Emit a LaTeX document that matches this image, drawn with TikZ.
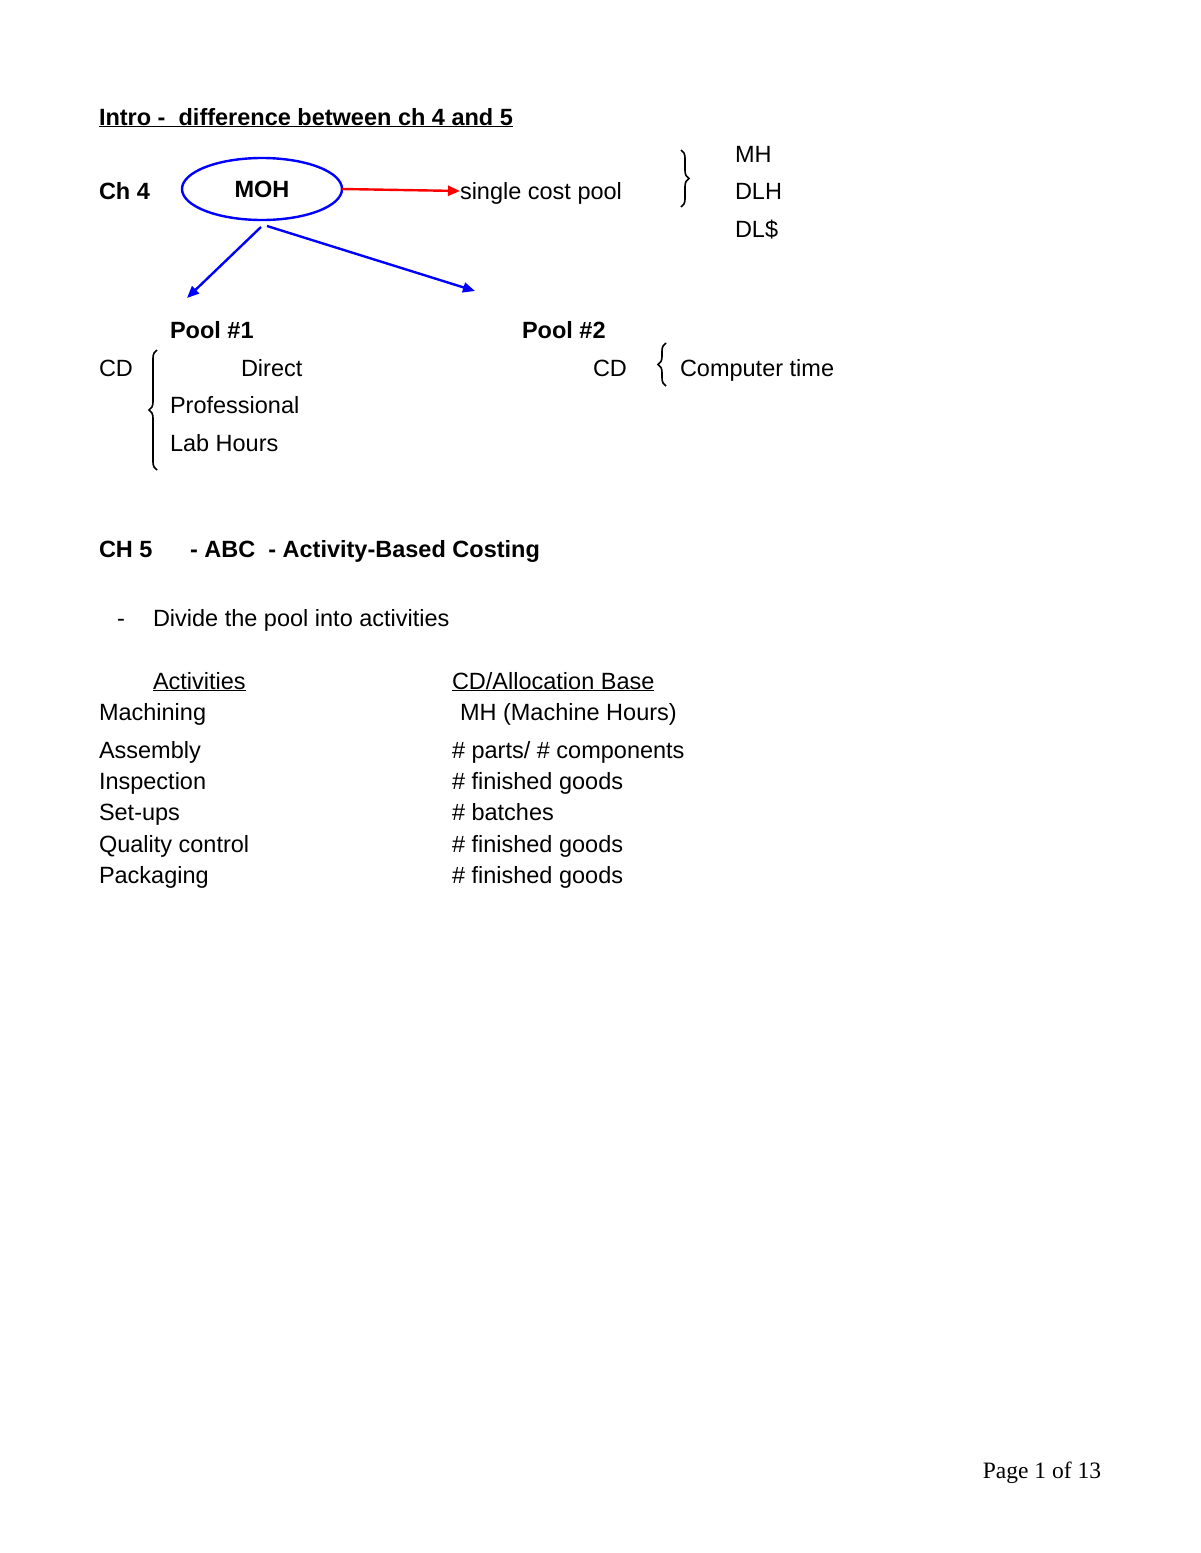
\documentclass[tikz,border=0pt]{standalone}
\usepackage{fontspec}
\setmainfont{Liberation Sans}
\newfontfamily\serifpg{Liberation Serif}
\usetikzlibrary{arrows.meta,decorations.pathreplacing,shapes.geometric}
\begin{document}
\begin{tikzpicture}[x=1pt,y=-1pt,
  every node/.style={inner sep=0pt,outer sep=0pt,font=\fontsize{23.5}{26}\selectfont},
  tx/.style={anchor=base west},
  bx/.style={anchor=base west,font=\fontsize{23.5}{26}\selectfont\bfseries},
  barrow/.style={draw=blue,line width=2.4pt,-{Triangle[length=12pt,width=10pt]}},
  rarrow/.style={draw=red,line width=2.4pt,-{Triangle[length=12pt,width=10pt]}},
  brc/.style={decorate,decoration={brace,amplitude=8pt},line width=1.6pt}]
\useasboundingbox (0,0) rectangle (1200,1553);
\node[bx] (title) at (99,125) {\underline{Intro -\ \ difference between ch 4 and 5}};
\node[bx] (ch4) at (99,199) {Ch 4};
\node[draw=blue,line width=2.4pt,ellipse,minimum width=160pt,minimum height=62pt,font=\fontsize{23.5}{26}\selectfont\bfseries] (moh) at (262,189) {MOH};
\node[tx] (scp) at (460,199) {single cost pool};
\draw[rarrow] (moh.east) -- (scp.west |- 0,191);
\draw[brc] (681,150) -- (681,207);
\node[tx] (mh) at (735,162) {MH};
\node[tx] (dlh) at (735,199) {DLH};
\node[tx] (dld) at (735,237) {DL\$};
\coordinate (p1) at (187,298);
\coordinate (p2) at (475,291);
\draw[barrow] (261,227) -- (p1);
\draw[barrow] (267,226) -- (p2);
\node[bx] (pool1) at (170,338) {Pool \#1};
\node[bx] (pool2) at (522,338) {Pool \#2};
\node[tx] (cd1) at (99,376) {CD};
\draw[brc] (157,470) -- (157,350);
\node[tx] (direct) at (241,376) {Direct};
\node[tx] (prof) at (170,413) {Professional};
\node[tx] (lab) at (170,451) {Lab Hours};
\node[tx] (cd2) at (593,376) {CD};
\draw[brc] (666,386) -- (666,343);
\node[tx] (comp) at (680,376) {Computer time};
\node[bx] (ch5) at (99,557) {CH 5};
\node[bx] (abc) at (190,557) {- ABC\ \ - Activity-Based Costing};
\node[tx] (dash) at (117,626) {-};
\node[tx] (divide) at (153,626) {Divide the pool into activities};
\node[tx] (act) at (153,689) {\underline{Activities}};
\node[tx] (cdab) at (452,689) {\underline{CD/Allocation Base}};
\node[tx] (a1) at (99,720) {Machining};
\node[tx] (b1) at (460,720) {MH (Machine Hours)};
\node[tx] (a2) at (99,758) {Assembly};
\node[tx] (b2) at (452,758) {\# parts/ \# components};
\node[tx] (a3) at (99,789) {Inspection};
\node[tx] (b3) at (452,789) {\# finished goods};
\node[tx] (a4) at (99,820) {Set-ups};
\node[tx] (b4) at (452,820) {\# batches};
\node[tx] (a5) at (99,852) {Quality control};
\node[tx] (b5) at (452,852) {\# finished goods};
\node[tx] (a6) at (99,883) {Packaging};
\node[tx] (b6) at (452,883) {\# finished goods};
\node[anchor=base east,font=\fontsize{23.5}{26}\serifpg] (page) at (1101,1478) {Page 1 of 13};
\end{tikzpicture}
\end{document}
